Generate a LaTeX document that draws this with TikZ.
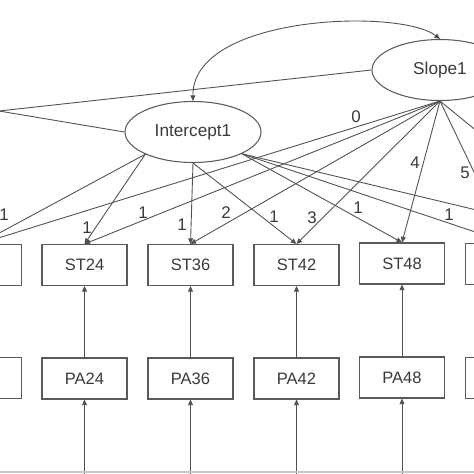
\documentclass[tikz,border=0pt]{standalone}
\usepackage{fontspec}
\setmainfont{Liberation Sans}
\usepackage{tikz}
\usetikzlibrary{arrows.meta,shapes.geometric}
\definecolor{PathInk}{HTML}{505050}
\definecolor{BoxInk}{HTML}{5A5A5A}
\definecolor{LabelInk}{HTML}{3A3A3A}
\definecolor{EdgeShade}{HTML}{C4C4C4}

\begin{document}
\begin{tikzpicture}[
  x=0.02cm,y=-0.02cm,
  font=\fontsize{9.4}{11}\selectfont,
  text=LabelInk,
  latent/.style={ellipse,draw=BoxInk,line width=0.6pt,minimum width=2.72cm,minimum height=1.22cm,inner sep=0pt,
                 font=\fontsize{9.8}{11}\selectfont},
  observed/.style={rectangle,draw=BoxInk,line width=0.6pt,minimum width=1.7cm,minimum height=0.82cm,inner sep=0pt},
  path/.style={draw=PathInk,line width=0.5pt,-{Triangle[length=3.2pt,width=2.8pt]}},
  plain/.style={draw=PathInk,line width=0.5pt},
  wt/.style={inner sep=0pt,font=\fontsize{9.6}{11}\selectfont},
]
  \useasboundingbox (0,0) rectangle (474,474);
  \clip (0,0) rectangle (474,474);

  % latent growth factors
  \node[latent] (Int1) at (193,132) {Intercept1};
  \node[latent] (Slp1) at (440,70) {Slope1};
  \coordinate (cov) at (-1,111);

  % outcome row (boxes at the edges run out of the picture)
  \node[observed] (ST12) at (-21,265) {};
  \node[observed] (ST24) at (84.5,265) {ST24};
  \node[observed] (ST36) at (190.5,265) {ST36};
  \node[observed] (ST42) at (296.5,265) {ST42};
  \node[observed] (ST48) at (402,263.5) {ST48};
  \node[observed] (ST54) at (508,264) {};
  \node[observed] (ST60) at (614,264) {};

  % predictor row
  \node[observed] (PA12) at (-21,378) {};
  \node[observed] (PA24) at (84.5,378.5) {PA24};
  \node[observed] (PA36) at (190.5,378.5) {PA36};
  \node[observed] (PA42) at (296.5,378.5) {PA42};
  \node[observed] (PA48) at (402,377.5) {PA48};
  \node[observed] (PA54) at (508,378) {};

  \coordinate (in12) at (-21,490);
  \coordinate (in24) at (84.5,490);
  \coordinate (in36) at (190.5,490);
  \coordinate (in42) at (296.5,490);
  \coordinate (in48) at (402,490);
  \coordinate (in54) at (508,490);

  % covariance between the factors
  \draw[draw=PathInk,line width=0.5pt,{Triangle[length=3.2pt,width=2.8pt]}-{Triangle[length=3.2pt,width=2.8pt]}]
    (Int1.north) .. controls (192,15) and (400,8) .. (Slp1.north);
  \draw[plain] (Slp1.west) -- (cov);
  \draw[plain] (Int1.west) -- (cov);

  % intercept loadings
  \draw[path] (Int1.-155) -- (ST12.north);
  \draw[path] (Int1.-155) -- (ST24.north);
  \draw[path] (Int1.south) -- (ST36.north);
  \draw[path] (Int1.south) -- (ST42.north);
  \draw[path] (Int1.-24) -- (ST48.north);
  \draw[path] (Int1.-24) -- (ST54.north);
  \draw[path] (Int1.-24) -- (ST60.north);

  % slope loadings
  \draw[path] (Slp1.south) -- (ST12.north);
  \draw[path] (Slp1.south) -- (ST24.north);
  \draw[path] (Slp1.south) -- (ST36.north);
  \draw[path] (Slp1.south) -- (ST42.north);
  \draw[path] (Slp1.south) -- (ST48.north);
  \draw[path] (Slp1.south) -- (ST54.north);
  \draw[path] (Slp1.south) -- (ST60.north);

  % time-varying covariate
  \draw[path] (PA12) -- (ST12);
  \draw[path] (PA24) -- (ST24);
  \draw[path] (PA36) -- (ST36);
  \draw[path] (PA42) -- (ST42);
  \draw[path] (PA48) -- (ST48);
  \draw[path] (PA54) -- (ST54);
  \draw[path] (in12) -- (PA12);
  \draw[path] (in24) -- (PA24);
  \draw[path] (in36) -- (PA36);
  \draw[path] (in42) -- (PA42);
  \draw[path] (in48) -- (PA48);
  \draw[path] (in54) -- (PA54);

  % loading values
  \node[wt] (w0) at (356,117) {0};
  \node[wt] (i12) at (4,215) {1};
  \node[wt] (i24) at (87,228) {1};
  \node[wt] (s24) at (143,213) {1};
  \node[wt] (i36) at (182,225) {1};
  \node[wt] (s36) at (226,213) {2};
  \node[wt] (i42) at (274,217) {1};
  \node[wt] (s42) at (312,218) {3};
  \node[wt] (i48) at (358,208) {1};
  \node[wt] (s48) at (415,163) {4};
  \node[wt] (s54) at (465,173) {5};
  \node[wt] (i54) at (449,215) {1};

  \draw[EdgeShade,line width=1.2pt] (0,472) -- (474,472);
\end{tikzpicture}
\end{document}
